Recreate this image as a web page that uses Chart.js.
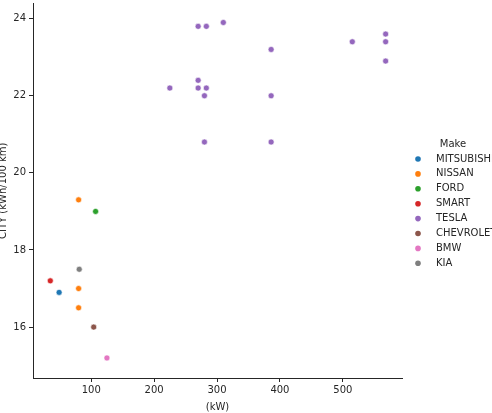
<!DOCTYPE html>
<html>
<head>
<meta charset="utf-8">
<script src="https://cdn.jsdelivr.net/npm/chart.js@4.4.1/dist/chart.umd.min.js"></script>
<style>
  html, body { margin: 0; padding: 0; background: #fff; }
  #wrap { width: 492px; height: 413px; position: relative; }
</style>
</head>
<body>
<div id="wrap"><canvas id="chart"></canvas></div>
<script>
// one entry per car: make, motor power (kW), city consumption (kWh/100 km)
const carMake = [
  'MITSUBISHI',
  'NISSAN', 'NISSAN', 'NISSAN',
  'FORD',
  'SMART',
  'TESLA', 'TESLA', 'TESLA', 'TESLA', 'TESLA', 'TESLA', 'TESLA', 'TESLA',
  'TESLA', 'TESLA', 'TESLA', 'TESLA', 'TESLA', 'TESLA', 'TESLA', 'TESLA',
  'CHEVROLET',
  'BMW',
  'KIA'
];
const powerKw = [
  49,
  80, 80, 80,
  107,
  35,
  270, 283, 310, 386, 515, 568, 568, 568,
  225, 270, 270, 283, 280, 386, 280, 386,
  104,
  125,
  81
];
const cityKwh = [
  16.9,
  19.3, 17.0, 16.5,
  19.0,
  17.2,
  23.8, 23.8, 23.9, 23.2, 23.4, 23.6, 23.4, 22.9,
  22.2, 22.4, 22.2, 22.2, 22.0, 22.0, 20.8, 20.8,
  16.0,
  15.2,
  17.5
];

const makeOrder = ['MITSUBISHI', 'NISSAN', 'FORD', 'SMART', 'TESLA', 'CHEVROLET', 'BMW', 'KIA'];
const makeColors = ['#1f77b4', '#ff7f0e', '#2ca02c', '#d62728', '#9467bd', '#8c564b', '#e377c2', '#7f7f7f'];
const xTicks = [100, 200, 300, 400, 500];
const yTicks = [16, 18, 20, 22, 24];
const legendTitle = 'Make';

const FONT = '"DejaVu Sans", sans-serif';
const INK = '#262626';

const datasets = makeOrder.map((make, i) => ({
  label: make,
  data: carMake
    .map((m, k) => m === make ? {x: powerKw[k], y: cityKwh[k]} : null)
    .filter(p => p),
  backgroundColor: makeColors[i],
  borderColor: '#ffffff',
  borderWidth: 0.6,
  pointRadius: 3,
  pointHoverRadius: 3
}));

// seaborn-style legend placed outside the axes on the right
const makeLegend = {
  id: 'makeLegend',
  afterDraw(chart) {
    const ctx = chart.ctx;
    ctx.save();
    ctx.font = '10px ' + FONT;
    ctx.fillStyle = INK;
    ctx.textBaseline = 'middle';
    ctx.textAlign = 'center';
    ctx.fillText(legendTitle, 453, 144);
    ctx.textAlign = 'left';
    chart.data.datasets.forEach((ds, i) => {
      const y = 159 + i * 14.9;
      ctx.beginPath();
      ctx.arc(418, y, 2.8, 0, Math.PI * 2);
      ctx.fillStyle = ds.backgroundColor;
      ctx.fill();
      ctx.fillStyle = INK;
      ctx.fillText(ds.label, 436, y);
    });
    ctx.restore();
  }
};

new Chart(document.getElementById('chart'), {
  type: 'scatter',
  data: {datasets: datasets},
  plugins: [makeLegend],
  options: {
    responsive: true,
    maintainAspectRatio: false,
    animation: false,
    layout: {padding: {top: 2, right: 90, left: 0, bottom: 0}},
    plugins: {
      legend: {display: false},
      tooltip: {enabled: false}
    },
    scales: {
      x: {
        type: 'linear',
        min: 7.5,
        max: 594,
        afterBuildTicks: s => { s.ticks = xTicks.map(v => ({value: v})); },
        afterFit: s => { s.height = 35; s.paddingLeft = 0; s.paddingRight = 0; },
        grid: {drawOnChartArea: false, drawTicks: true, tickLength: 4, color: INK},
        border: {display: true, color: INK, width: 1},
        ticks: {color: INK, font: {family: FONT, size: 10}, padding: 2, maxRotation: 0},
        title: {display: true, text: '(kW)', color: INK, font: {family: FONT, size: 10}, padding: {top: 0, bottom: 0}}
      },
      y: {
        type: 'linear',
        min: 14.68,
        max: 24.39,
        afterBuildTicks: s => { s.ticks = yTicks.map(v => ({value: v})); },
        afterFit: s => { s.width = 33; s.paddingTop = 0; s.paddingBottom = 0; },
        grid: {drawOnChartArea: false, drawTicks: true, tickLength: 4, color: INK},
        border: {display: true, color: INK, width: 1},
        ticks: {color: INK, font: {family: FONT, size: 10}, padding: 3},
        title: {display: true, text: 'CITY (kWh/100 km)', color: INK, font: {family: FONT, size: 10}, padding: {top: -3, bottom: 2}}
      }
    }
  }
});
</script>
</body>
</html>
